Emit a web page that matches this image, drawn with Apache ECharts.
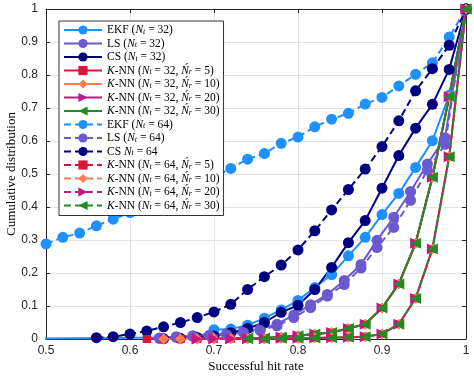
<!DOCTYPE html>
<html>
<head>
<meta charset="utf-8">
<script src="https://cdn.jsdelivr.net/npm/echarts@6/dist/echarts.min.js"></script>
<style>
  html, body { margin: 0; padding: 0; background: #fff; }
  #chart { width: 474px; height: 376px; }
</style>
</head>
<body>
<div id="chart"></div>
<script>
// EKF
const ekf32X = [0.4, 0.68, 0.7, 0.72, 0.74, 0.76, 0.78, 0.8, 0.82, 0.84, 0.86, 0.88, 0.9, 0.92, 0.94, 0.96, 0.98, 1];
const ekf32Y = [0, 0.005, 0.028, 0.03, 0.042, 0.063, 0.088, 0.117, 0.156, 0.195, 0.252, 0.308, 0.377, 0.441, 0.52, 0.601, 0.739, 1];
const ekf64X = [0.5, 0.52, 0.54, 0.56, 0.58, 0.6, 0.62, 0.64, 0.66, 0.68, 0.7, 0.72, 0.74, 0.76, 0.78, 0.8, 0.82, 0.84, 0.86, 0.88, 0.9, 0.92, 0.94, 0.96, 0.98, 1];
const ekf64Y = [0.288, 0.308, 0.321, 0.343, 0.363, 0.383, 0.40, 0.42, 0.445, 0.47, 0.49, 0.517, 0.545, 0.562, 0.593, 0.612, 0.643, 0.666, 0.684, 0.712, 0.732, 0.767, 0.802, 0.837, 0.915, 1];

// LS
const lsX = [0.635, 0.655, 0.675, 0.695, 0.715, 0.735, 0.755, 0.775, 0.795, 0.815, 0.835, 0.855, 0.875, 0.894, 0.914, 0.934, 0.954, 0.975, 1];
const ls32Y = [0.003, 0.007, 0.01, 0.012, 0.016, 0.024, 0.03, 0.045, 0.073, 0.104, 0.135, 0.177, 0.226, 0.299, 0.369, 0.447, 0.53, 0.61, 1];
const ls64Y = [0.002, 0.005, 0.008, 0.01, 0.013, 0.02, 0.026, 0.04, 0.065, 0.095, 0.13, 0.165, 0.215, 0.277, 0.338, 0.42, 0.512, 0.59, 1];

// CS
const cs32X = [0.64, 0.66, 0.68, 0.7, 0.72, 0.74, 0.76, 0.78, 0.8, 0.82, 0.84, 0.86, 0.88, 0.9, 0.92, 0.94, 0.96, 0.98, 1];
const cs32Y = [0.001, 0.002, 0.004, 0.009, 0.019, 0.032, 0.05, 0.081, 0.102, 0.15, 0.217, 0.292, 0.359, 0.457, 0.556, 0.639, 0.711, 0.817, 1];
const cs64X = [0.56, 0.58, 0.6, 0.62, 0.64, 0.66, 0.68, 0.7, 0.72, 0.74, 0.76, 0.78, 0.8, 0.82, 0.84, 0.86, 0.88, 0.9, 0.92, 0.94, 0.96, 0.98, 1];
const cs64Y = [0.004, 0.007, 0.015, 0.024, 0.037, 0.05, 0.065, 0.082, 0.105, 0.15, 0.189, 0.224, 0.27, 0.328, 0.391, 0.453, 0.515, 0.583, 0.661, 0.752, 0.819, 0.89, 1];

// K-NN (curves for the four Nr values overlap)
const knnX = [0.62, 0.64, 0.66, 0.68, 0.7, 0.72, 0.74, 0.76, 0.78, 0.8, 0.82, 0.84, 0.86, 0.88, 0.9, 0.92, 0.94, 0.96, 0.98, 1];
const knn32Y = [0, 0, 0, 0.001, 0.001, 0.002, 0.003, 0.003, 0.006, 0.01, 0.015, 0.02, 0.032, 0.045, 0.094, 0.167, 0.29, 0.49, 0.734, 1];
const knn64Y = [0, 0, 0, 0, 0.001, 0.001, 0.001, 0.001, 0.002, 0.002, 0.003, 0.004, 0.005, 0.007, 0.015, 0.045, 0.123, 0.273, 0.552, 1];
const knnNr = [5, 10, 20, 30];
const knnFirstX = [0.62, 0.64, 0.68, 0.74];

const xTicks = { min: 0.5, max: 1, interval: 0.1 };
const yTicks = { min: 0, max: 1, interval: 0.1 };

const C_EKF = '#1E90FF';
const C_LS = '#6A5ACD';
const C_CS = '#000080';
const knnColors = ['#DC143C', '#FF7F50', '#C71585', '#228B22'];
const knnSymbols = ['rect', 'diamond', 'triangle', 'triangle'];
const knnRotate = [0, 0, -90, 90];
const knnSizes = [8, 11, 11, 11];

const zip = (xs, ys) => xs.map((x, i) => [x, ys[i]]);

const mk = (name, xs, ys, color, dashed, symbol, size, rotate) => ({
  name: name,
  type: 'line',
  data: zip(xs, ys),
  symbol: symbol,
  symbolSize: size,
  symbolRotate: rotate || 0,
  showAllSymbol: true,
  clip: true,
  lineStyle: { color: color, width: 2, type: dashed ? [7, 4] : 'solid' },
  itemStyle: { color: color, borderWidth: 0 },
  emphasis: { disabled: true },
});

const knnSeries = (nt, ys, dashed) =>
  knnNr.map((nr, k) => {
    const xs = knnX.filter((x) => x >= knnFirstX[k] - 1e-9);
    const vs = ys.slice(knnX.length - xs.length);
    return mk('KNN' + nt + '_' + nr, xs, vs, knnColors[k], dashed, knnSymbols[k], knnSizes[k], knnRotate[k]);
  });

const series = [
  mk('EKF32', ekf32X, ekf32Y, C_EKF, false, 'circle', 11),
  mk('LS32', lsX, ls32Y, C_LS, false, 'circle', 11),
  mk('CS32', cs32X, cs32Y, C_CS, false, 'circle', 11),
  ...knnSeries(32, knn32Y, false),
  mk('EKF64', ekf64X, ekf64Y, C_EKF, true, 'circle', 11),
  mk('LS64', lsX, ls64Y, C_LS, true, 'circle', 11),
  mk('CS64', cs64X, cs64Y, C_CS, true, 'circle', 11),
  ...knnSeries(64, knn64Y, true),
];

const legendText = {
  EKF32: 'EKF ({i|N}{s|t} = 32)',
  LS32: 'LS ({i|N}{s|t} = 32)',
  CS32: 'CS ({i|N}{s|t} = 32)',
  EKF64: 'EKF ({i|N}{s|t} = 64)',
  LS64: 'LS ({i|N}{s|t} = 64)',
  CS64: 'CS {i|N}{s|t} = 64',
};
[32, 64].forEach((nt) => {
  knnNr.forEach((nr) => {
    legendText['KNN' + nt + '_' + nr] = '{i|K}-NN ({i|N}{s|t} = ' + nt + ', {i|Ń}{s|r} = ' + nr + ')';
  });
});

const serif = 'Liberation Serif';
const sans = 'Liberation Sans';
const axisColor = '#262626';

const chart = echarts.init(document.getElementById('chart'), null, { renderer: 'canvas' });

const option = {
  animation: false,
  backgroundColor: '#fff',
  grid: { left: 46, top: 9, right: 8, bottom: 37, outerBoundsMode: 'none' },
  legend: {
    orient: 'vertical',
    left: 59,
    top: 21,
    padding: [3, 4, 4, 4],
    itemWidth: 38,
    itemHeight: 11.5,
    itemGap: 1.5,
    symbolRotate: 'inherit',
    backgroundColor: '#fff',
    borderColor: '#333',
    borderWidth: 1,
    borderRadius: 0,
    selectedMode: false,
    z: 10,
    data: series.map((s) => s.name),
    formatter: (name) => legendText[name] || name,
    textStyle: {
      fontFamily: serif,
      fontSize: 11.5,
      lineHeight: 11.5,
      color: '#000',
      rich: {
        i: { fontFamily: serif, fontStyle: 'italic', fontSize: 11.5, lineHeight: 11.5, color: '#000' },
        s: { fontFamily: serif, fontStyle: 'italic', fontSize: 8, lineHeight: 5, verticalAlign: 'bottom', color: '#000' },
      },
    },
  },
  xAxis: [
    {
      type: 'value',
      position: 'bottom',
      ...xTicks,
      name: 'Successful hit rate',
      nameLocation: 'middle',
      nameGap: 21,
      nameMoveOverlap: false,
      nameTextStyle: { fontFamily: serif, fontSize: 13, color: '#000' },
      axisLine: { show: true, onZero: false, lineStyle: { color: axisColor, width: 1 } },
      axisTick: { show: true, inside: true, length: 4, lineStyle: { color: axisColor } },
      axisLabel: { color: axisColor, fontFamily: sans, fontSize: 12, margin: 6 },
      splitLine: { show: true, lineStyle: { color: '#e4e4e4', width: 1 } },
    },
    {
      type: 'value',
      position: 'top',
      ...xTicks,
      axisLine: { show: true, onZero: false, lineStyle: { color: axisColor, width: 1 } },
      axisTick: { show: true, inside: true, length: 4, lineStyle: { color: axisColor } },
      axisLabel: { show: false },
      splitLine: { show: false },
    },
  ],
  yAxis: [
    {
      type: 'value',
      position: 'left',
      ...yTicks,
      name: 'Cumulative distribution',
      nameLocation: 'middle',
      nameGap: 28,
      nameMoveOverlap: false,
      nameTextStyle: { fontFamily: serif, fontSize: 13, color: '#000' },
      axisLine: { show: true, onZero: false, lineStyle: { color: axisColor, width: 1 } },
      axisTick: { show: true, inside: true, length: 4, lineStyle: { color: axisColor } },
      axisLabel: { color: axisColor, fontFamily: sans, fontSize: 12, margin: 8 },
      splitLine: { show: true, lineStyle: { color: '#e4e4e4', width: 1 } },
    },
    {
      type: 'value',
      position: 'right',
      ...yTicks,
      axisLine: { show: true, onZero: false, lineStyle: { color: axisColor, width: 1 } },
      axisTick: { show: true, inside: true, length: 4, lineStyle: { color: axisColor } },
      axisLabel: { show: false },
      splitLine: { show: false },
    },
  ],
  series: series,
};

chart.setOption(option);
</script>
</body>
</html>
